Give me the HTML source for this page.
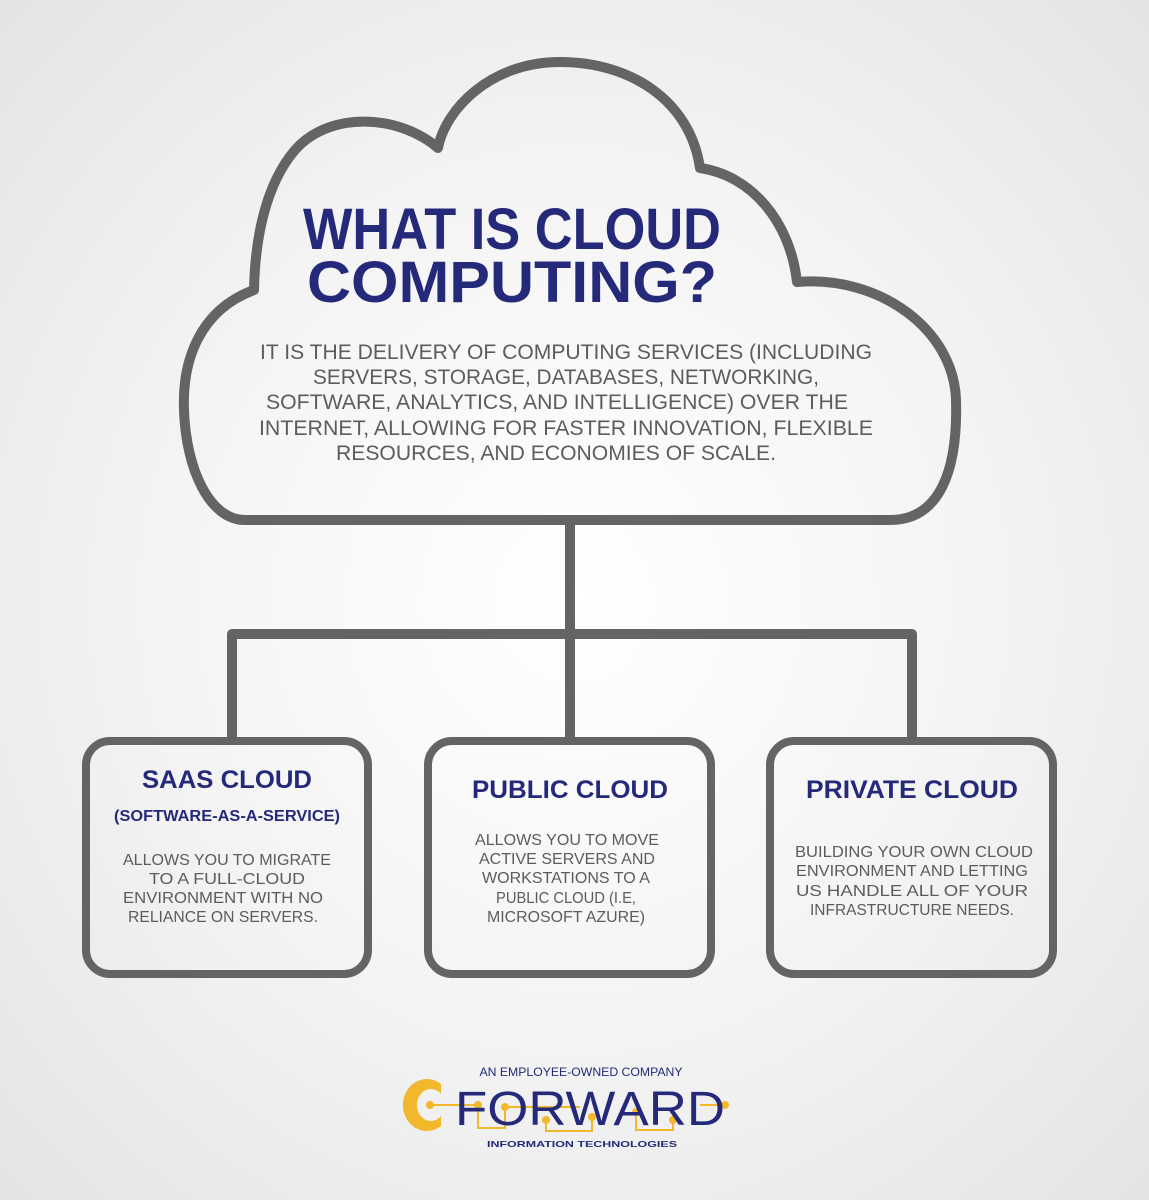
<!DOCTYPE html>
<html><head><meta charset="utf-8"><style>
html,body{margin:0;padding:0}
body{width:1149px;height:1200px;overflow:hidden;background:radial-gradient(ellipse at 50% 50%,#ffffff 0%,#f4f4f4 50%,#e4e4e4 100%);}
svg{display:block}
</style></head><body>
<svg width="1149" height="1200" viewBox="0 0 1149 1200" xmlns="http://www.w3.org/2000/svg">
<g fill="none" stroke="#646464" stroke-width="10" stroke-linejoin="round">
<path d="M245 520 L890 520 C940 520 958 470 956 400 C954 330 880 275 797 282 C790 220 750 175 700 168 C690 100 630 62 560 62 C490 62 445 110 438 148 C400 115 330 110 295 150 C265 185 255 240 254 290 C200 310 182 360 184 410 C186 470 210 520 245 520 Z"/>
<path d="M570 522 V740 M232 740 V634 H912 V740"/>
<rect x="86" y="741" width="282" height="233" rx="24" stroke-width="8"/>
<rect x="428" y="741" width="283" height="233" rx="24" stroke-width="8"/>
<rect x="770" y="741" width="283" height="233" rx="24" stroke-width="8"/>
</g>
<g font-family="Liberation Sans, sans-serif" text-anchor="middle">
<text x="512" y="249" font-size="58" font-weight="bold" fill="#25297a" textLength="418" lengthAdjust="spacingAndGlyphs">WHAT IS CLOUD</text>
<text x="512" y="302" font-size="58" font-weight="bold" fill="#25297a" textLength="410" lengthAdjust="spacingAndGlyphs">COMPUTING?</text>
<g font-size="21" fill="#5c5c5c">
<text x="566" y="359" textLength="612" lengthAdjust="spacingAndGlyphs">IT IS THE DELIVERY OF COMPUTING SERVICES (INCLUDING</text>
<text x="566" y="384" textLength="506" lengthAdjust="spacingAndGlyphs">SERVERS, STORAGE, DATABASES, NETWORKING,</text>
<text x="557" y="409" textLength="582" lengthAdjust="spacingAndGlyphs">SOFTWARE, ANALYTICS, AND INTELLIGENCE) OVER THE</text>
<text x="566" y="435" textLength="614" lengthAdjust="spacingAndGlyphs">INTERNET, ALLOWING FOR FASTER INNOVATION, FLEXIBLE</text>
<text x="556" y="460" textLength="440" lengthAdjust="spacingAndGlyphs">RESOURCES, AND ECONOMIES OF SCALE.</text>
</g>
<g font-weight="bold" fill="#25297a">
<text x="227" y="788" font-size="25" textLength="170" lengthAdjust="spacingAndGlyphs">SAAS CLOUD</text>
<text x="227" y="821" font-size="16" textLength="226" lengthAdjust="spacingAndGlyphs">(SOFTWARE-AS-A-SERVICE)</text>
<text x="570" y="798" font-size="25" textLength="196" lengthAdjust="spacingAndGlyphs">PUBLIC CLOUD</text>
<text x="912" y="798" font-size="25" textLength="212" lengthAdjust="spacingAndGlyphs">PRIVATE CLOUD</text>
</g>
<g font-size="15.5" fill="#5c5c5c">
<text x="227" y="865" textLength="208" lengthAdjust="spacingAndGlyphs">ALLOWS YOU TO MIGRATE</text>
<text x="227" y="884" textLength="156" lengthAdjust="spacingAndGlyphs">TO A FULL-CLOUD</text>
<text x="223" y="903" textLength="200" lengthAdjust="spacingAndGlyphs">ENVIRONMENT WITH NO</text>
<text x="223" y="922" textLength="190" lengthAdjust="spacingAndGlyphs">RELIANCE ON SERVERS.</text>
<text x="567" y="845" textLength="184" lengthAdjust="spacingAndGlyphs">ALLOWS YOU TO MOVE</text>
<text x="567" y="864" textLength="176" lengthAdjust="spacingAndGlyphs">ACTIVE SERVERS AND</text>
<text x="566" y="883" textLength="168" lengthAdjust="spacingAndGlyphs">WORKSTATIONS TO A</text>
<text x="566" y="903" textLength="140" lengthAdjust="spacingAndGlyphs">PUBLIC CLOUD (I.E,</text>
<text x="566" y="922" textLength="158" lengthAdjust="spacingAndGlyphs">MICROSOFT AZURE)</text>
<text x="914" y="857" textLength="238" lengthAdjust="spacingAndGlyphs">BUILDING YOUR OWN CLOUD</text>
<text x="912" y="876" textLength="232" lengthAdjust="spacingAndGlyphs">ENVIRONMENT AND LETTING</text>
<text x="912" y="896" textLength="232" lengthAdjust="spacingAndGlyphs">US HANDLE ALL OF YOUR</text>
<text x="912" y="915" textLength="204" lengthAdjust="spacingAndGlyphs">INFRASTRUCTURE NEEDS.</text>
</g>
<text x="581" y="1076" font-size="12" fill="#25297a" textLength="203" lengthAdjust="spacingAndGlyphs">AN EMPLOYEE-OWNED COMPANY</text>
<text x="582" y="1147" font-size="8.5" font-weight="bold" fill="#25297a" textLength="190" lengthAdjust="spacingAndGlyphs">INFORMATION TECHNOLOGIES</text>
</g>
<!-- logo C -->
<path d="M441 1084 A24 26 0 1 0 441 1126 L441 1116 A14 16 0 1 1 441 1094 Z" fill="#f0b82a"/>
<g stroke="#f0b82a" stroke-width="2" fill="none">
<path d="M430 1105 H478 V1128 H505 V1107 H580"/>
<path d="M546 1120 V1131 H592 V1117"/>
<path d="M636 1112 V1130 H673 V1120"/>
<path d="M700 1105 H725"/>
</g>
<g fill="#f0b82a">
<circle cx="430" cy="1105" r="4"/><circle cx="478" cy="1105" r="4"/><circle cx="505" cy="1107" r="4"/>
<circle cx="546" cy="1120" r="4"/><circle cx="592" cy="1117" r="4"/><circle cx="636" cy="1112" r="4"/>
<circle cx="673" cy="1120" r="4"/><circle cx="725" cy="1105" r="4"/>
</g>
<text x="590" y="1125" font-family="Liberation Sans, sans-serif" font-size="48" fill="#25297a" text-anchor="middle" textLength="270" lengthAdjust="spacingAndGlyphs">FORWARD</text>
</svg>
</body></html>
